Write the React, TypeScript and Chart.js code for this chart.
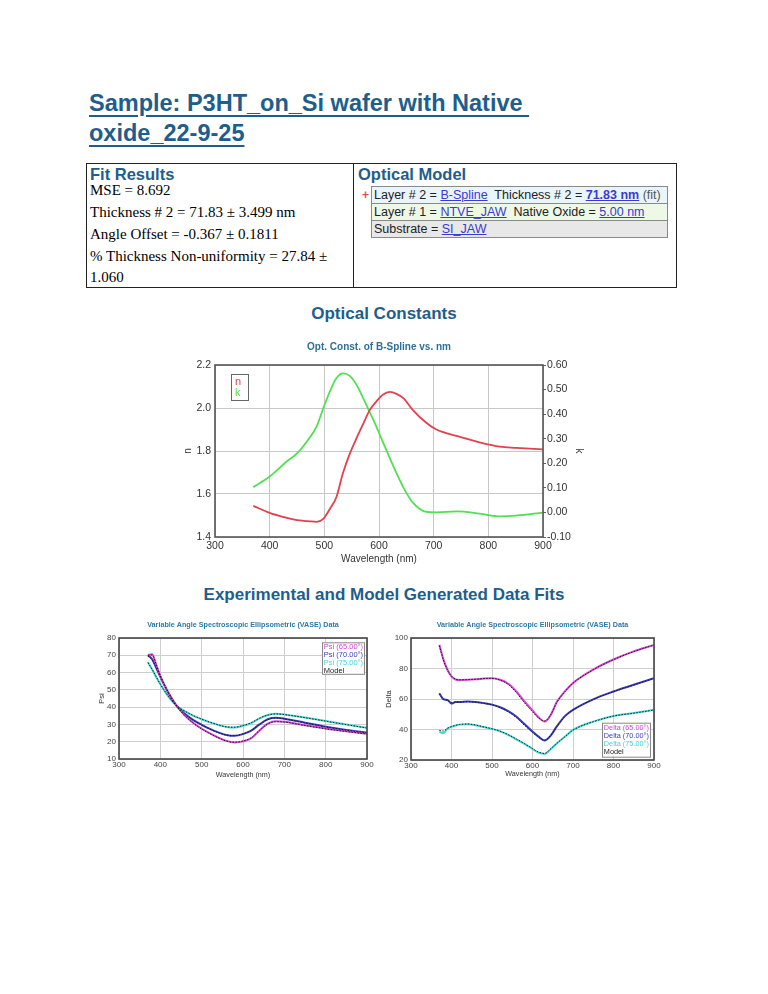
import React, { useEffect, useRef } from "react";
import { Chart, registerables } from "chart.js";

Chart.register(...registerables);

const FONT = "Arial, 'Liberation Sans', Helvetica, sans-serif";
const SERIF = "'Times New Roman', 'Liberation Serif', Times, serif";
const BLUE = "#1d5e8c";

// ---------- Optical constants (B-Spline) ----------
const ocWavelength = [370, 400, 430, 450, 470, 486, 498, 510, 522, 534, 547, 559, 571, 583, 595, 607, 620, 632, 645, 662, 687, 705, 742, 784, 821, 851, 900];
const nValues = [1.545, 1.512, 1.49, 1.478, 1.474, 1.47, 1.484, 1.53, 1.585, 1.697, 1.79, 1.86, 1.926, 1.99, 2.03, 2.062, 2.075, 2.066, 2.045, 1.99, 1.93, 1.9, 1.87, 1.84, 1.82, 1.815, 1.808];
const kValues = [0.103, 0.146, 0.205, 0.24, 0.295, 0.35, 0.424, 0.492, 0.546, 0.566, 0.555, 0.519, 0.465, 0.408, 0.35, 0.287, 0.22, 0.16, 0.1, 0.04, 0.002, 0.0, 0.004, -0.005, -0.016, -0.013, -0.001];

// ---------- Psi ----------
const psiWavelength = [370, 380, 390, 400, 420, 440, 460, 480, 500, 520, 540, 560, 580, 600, 620, 640, 660, 680, 700, 750, 800, 850, 900];
const psi65 = [70.2, 70.6, 64.5, 58.0, 48.0, 40.5, 35.0, 30.8, 27.5, 24.8, 22.4, 20.5, 19.6, 20.2, 22.0, 26.5, 30.5, 31.8, 31.5, 29.5, 27.6, 26.0, 24.6];
const psi70 = [70.0, 67.8, 62.8, 57.5, 48.0, 40.6, 36.0, 32.5, 29.8, 27.4, 25.4, 23.9, 23.4, 24.4, 26.4, 30.0, 33.0, 33.8, 33.3, 31.0, 28.7, 26.8, 25.2];
const psi75 = [66.0, 61.8, 57.5, 53.2, 46.0, 40.6, 37.5, 35.0, 33.0, 31.2, 29.7, 28.5, 28.2, 29.2, 30.8, 33.5, 35.5, 36.2, 35.8, 34.0, 32.0, 30.0, 28.0];
const psiModel65 = [70.0, 70.2, 64.8, 58.2, 48.2, 40.4, 34.9, 30.7, 27.4, 24.7, 22.3, 20.4, 19.7, 20.4, 22.3, 26.6, 30.3, 31.6, 31.4, 29.4, 27.5, 25.9, 24.5];
const psiModel70 = [69.6, 67.5, 62.9, 57.6, 48.1, 40.5, 35.9, 32.4, 29.7, 27.3, 25.3, 23.8, 23.5, 24.6, 26.6, 30.1, 32.8, 33.7, 33.2, 30.9, 28.6, 26.7, 25.1];
const psiModel75 = [65.8, 61.9, 57.6, 53.3, 46.1, 40.7, 37.6, 35.1, 33.1, 31.3, 29.8, 28.6, 28.4, 29.4, 31.0, 33.6, 35.4, 36.1, 35.7, 33.9, 31.9, 29.9, 27.9];

// ---------- Delta ----------
const deltaWavelength = [370, 380, 390, 400, 410, 420, 440, 460, 480, 500, 520, 540, 560, 580, 600, 615, 630, 645, 660, 680, 700, 750, 800, 850, 900];
const delta65 = [95.5, 86.0, 79.2, 74.8, 72.8, 72.5, 72.6, 72.9, 73.4, 73.6, 72.6, 70.0, 65.0, 58.5, 52.5, 48.0, 45.2, 49.5, 58.0, 65.0, 70.5, 79.3, 85.9, 91.2, 95.5];
const delta70 = [63.8, 59.8, 59.4, 57.0, 58.0, 58.0, 58.3, 58.0, 57.3, 56.3, 54.6, 52.0, 48.5, 43.6, 38.7, 35.3, 32.8, 36.0, 42.0, 48.8, 52.9, 59.8, 64.9, 69.3, 73.7];
const delta75 = [38.5, 37.5, 40.6, 41.8, 42.6, 43.2, 43.5, 42.8, 41.6, 40.4, 38.8, 36.5, 33.6, 30.6, 27.2, 24.8, 24.0, 27.2, 30.8, 35.3, 39.7, 45.2, 48.9, 50.8, 52.9];
const deltaModel65 = [95.0, 85.6, 79.0, 74.9, 73.0, 72.6, 72.7, 73.0, 73.4, 73.5, 72.4, 69.6, 64.3, 57.6, 51.6, 47.6, 45.6, 49.8, 57.8, 64.8, 70.4, 79.2, 85.8, 91.1, 95.4];
const deltaModel70 = [63.4, 60.0, 59.2, 57.6, 57.9, 58.0, 58.2, 57.9, 57.2, 56.2, 54.4, 51.6, 47.8, 42.8, 38.0, 35.0, 33.0, 36.2, 41.8, 48.6, 52.8, 59.7, 64.8, 69.2, 73.6];
const deltaModel75 = [39.4, 39.0, 40.8, 41.9, 42.7, 43.3, 43.6, 42.9, 41.7, 40.5, 38.9, 36.6, 33.8, 30.8, 27.5, 25.2, 24.3, 27.4, 30.9, 35.3, 39.6, 45.1, 48.8, 50.7, 52.8];

// ---------- Ticks ----------
const wavelengthTicks = [300, 400, 500, 600, 700, 800, 900];
const nTicks = [1.4, 1.6, 1.8, 2.0, 2.2];
const kTicks = [-0.1, 0.0, 0.1, 0.2, 0.3, 0.4, 0.5, 0.6];
const psiTicks = [10, 20, 30, 40, 50, 60, 70, 80];
const deltaTicks = [20, 40, 60, 80, 100];

// ---------- Colors ----------
const C_N = "#e2414d";
const C_K = "#52e052";
const C_65 = "#d445d4";
const C_70 = "#3b3bbd";
const C_75 = "#45d6d6";
const C_MODEL = "#1a1a1a";

const pts = (xs: number[], ys: number[]) => xs.map((x, i) => ({ x, y: ys[i] }));
const setTicks = (values: number[]) => (scale: any) => {
  scale.ticks = values.map((v) => ({ value: v }));
};

const framePlugin = {
  id: "frame",
  afterDatasetsDraw(chart: any, _a: any, opts: any) {
    const { ctx, chartArea: a } = chart;
    ctx.save();
    ctx.strokeStyle = opts.color || "#555";
    ctx.lineWidth = opts.width || 1.5;
    ctx.strokeRect(a.left, a.top, a.right - a.left, a.bottom - a.top);
    ctx.restore();
  },
};

const boxLegendPlugin = {
  id: "boxLegend",
  afterDraw(chart: any, _a: any, opts: any) {
    if (!opts || !opts.show) return;
    const { ctx, chartArea: a } = chart;
    const x = opts.right ? a.right - opts.dx - opts.w : a.left + opts.dx;
    const y = opts.bottom ? a.bottom - opts.dy - opts.h : a.top + opts.dy;
    ctx.save();
    ctx.fillStyle = "#ffffff";
    ctx.fillRect(x, y, opts.w, opts.h);
    ctx.strokeStyle = opts.border || "#777";
    ctx.lineWidth = 1;
    ctx.strokeRect(x + 0.5, y + 0.5, opts.w, opts.h);
    ctx.font = `${opts.fontSize}px ${FONT}`;
    ctx.textBaseline = "middle";
    ctx.textAlign = "left";
    const seen = new Set<string>();
    let i = 0;
    chart.data.datasets.forEach((ds: any) => {
      if (!ds.label || seen.has(ds.label)) return;
      seen.add(ds.label);
      ctx.fillStyle = ds.legendColor || ds.borderColor;
      ctx.fillText(ds.label, x + opts.padX, y + opts.firstY + i * opts.gap);
      i++;
    });
    ctx.restore();
  },
};

function ChartCanvas({ config, left, top, width, height }: any) {
  const ref = useRef<HTMLCanvasElement>(null);
  useEffect(() => {
    const chart = new Chart(ref.current as HTMLCanvasElement, config);
    return () => chart.destroy();
  }, []);
  return (
    <canvas
      ref={ref}
      width={width}
      height={height}
      style={{ position: "absolute", left, top, width, height, display: "block" }}
    />
  );
}

const lineDs = (label: string, xs: number[], ys: number[], color: string, extra: any = {}) => ({
  label,
  data: pts(xs, ys),
  borderColor: color,
  backgroundColor: color,
  borderWidth: 2,
  pointRadius: 0,
  cubicInterpolationMode: "monotone",
  fill: false,
  order: 1,
  ...extra,
});

const modelDs = (xs: number[], ys: number[], extra: any = {}) => ({
  label: "Model",
  data: pts(xs, ys),
  borderColor: C_MODEL,
  legendColor: "#222",
  borderWidth: 1,
  borderDash: [1.5, 1.5],
  pointRadius: 0,
  cubicInterpolationMode: "monotone",
  fill: false,
  order: 0,
  ...extra,
});

// ---------- Chart configs ----------
const ocConfig: any = {
  type: "line",
  data: {
    datasets: [
      lineDs("n", ocWavelength, nValues, C_N, { yAxisID: "n", borderWidth: 1.8 }),
      lineDs("k", ocWavelength, kValues, C_K, { yAxisID: "k", borderWidth: 1.8 }),
    ],
  },
  plugins: [framePlugin, boxLegendPlugin],
  options: {
    animation: false,
    responsive: false,
    events: [],
    layout: { padding: 0 },
    plugins: {
      legend: { display: false },
      tooltip: { enabled: false },
      title: {
        display: true,
        text: "Opt. Const. of B-Spline vs. nm",
        color: "#2f6f99",
        font: { family: FONT, size: 10, weight: "bold", lineHeight: 1.2 },
        padding: { top: 6, bottom: 12 },
        fullSize: false,
      },
      frame: { color: "#555", width: 1.6 },
      boxLegend: { show: true, dx: 16, dy: 9, w: 17, h: 26, fontSize: 11, padX: 4, firstY: 7.7, gap: 11, border: "#666" },
    },
    scales: {
      x: {
        type: "linear",
        min: 300,
        max: 900,
        afterBuildTicks: setTicks(wavelengthTicks),
        afterFit: (s: any) => {
          s.height = 33;
          s.paddingLeft = 0;
          s.paddingRight = 0;
        },
        grid: { color: "#c8c8c8", drawTicks: false },
        border: { display: false },
        ticks: { color: "#333", font: { family: FONT, size: 10.5 }, padding: 3, maxRotation: 0, callback: (v: any) => String(v) },
        title: { display: true, text: "Wavelength (nm)", color: "#333", font: { family: FONT, size: 10, lineHeight: 1.2 }, padding: { top: 0, bottom: 5 } },
      },
      n: {
        type: "linear",
        position: "left",
        min: 1.4,
        max: 2.2,
        afterBuildTicks: setTicks(nTicks),
        afterFit: (s: any) => {
          s.width = 41;
        },
        grid: { color: "#c8c8c8", drawTicks: false },
        border: { display: false },
        ticks: { color: "#333", font: { family: FONT, size: 10.5 }, padding: 4, callback: (v: any) => Number(v).toFixed(1) },
        title: { display: true, text: "n", color: "#333", font: { family: FONT, size: 10, lineHeight: 1.2 }, padding: { top: 8, bottom: 0 } },
      },
      k: {
        type: "linear",
        position: "right",
        min: -0.1,
        max: 0.6,
        afterBuildTicks: setTicks(kTicks),
        afterFit: (s: any) => {
          s.width = 51;
        },
        grid: { drawOnChartArea: false, drawTicks: true, tickLength: 3, color: "#666" },
        border: { display: false },
        ticks: { color: "#333", font: { family: FONT, size: 10.5 }, padding: 1, callback: (v: any) => Number(v).toFixed(2) },
        title: { display: true, text: "k", color: "#333", font: { family: FONT, size: 10, lineHeight: 1.2 }, padding: { top: 9, bottom: 0 } },
      },
    },
  },
};

const vaseOptions = (yTicks: number[], yMin: number, yMax: number, yTitle: string, yWidth: number, padRight: number, xHeight: number, yTitlePad: number, xTitlePad: number, legend: any) => ({
  animation: false,
  responsive: false,
  events: [],
  layout: { padding: { left: 0, right: padRight, top: 0, bottom: 0 } },
  plugins: {
    legend: { display: false },
    tooltip: { enabled: false },
    title: {
      display: true,
      text: "Variable Angle Spectroscopic Ellipsometric (VASE) Data",
      color: "#2f7aa6",
      font: { family: FONT, size: 7.2, weight: "bold", lineHeight: 1.2 },
      padding: { top: 8.7, bottom: 8.66 },
      fullSize: false,
    },
    frame: { color: "#444", width: 1.6 },
    boxLegend: legend,
  },
  scales: {
    x: {
      type: "linear",
      min: 300,
      max: 900,
      afterBuildTicks: setTicks(wavelengthTicks),
      afterFit: (s: any) => {
        s.height = xHeight;
        s.paddingLeft = 0;
        s.paddingRight = 0;
      },
      grid: { color: "#cfcfcf", drawTicks: false },
      border: { display: false },
      ticks: { color: "#444", font: { family: FONT, size: 8 }, padding: 1, maxRotation: 0, callback: (v: any) => String(v) },
      title: { display: true, text: "Wavelength (nm)", color: "#333", font: { family: FONT, size: 7.2, lineHeight: 1.2 }, padding: { top: 0, bottom: xTitlePad } },
    },
    y: {
      type: "linear",
      position: "left",
      min: yMin,
      max: yMax,
      afterBuildTicks: setTicks(yTicks),
      afterFit: (s: any) => {
        s.width = yWidth;
      },
      grid: { color: "#cfcfcf", drawTicks: false },
      border: { display: false },
      ticks: { color: "#444", font: { family: FONT, size: 8 }, padding: 3, callback: (v: any) => String(v) },
      title: { display: true, text: yTitle, color: "#333", font: { family: FONT, size: 7.5, lineHeight: 1.2 }, padding: { top: yTitlePad, bottom: 0 } },
    },
  },
});

const psiConfig: any = {
  type: "line",
  data: {
    datasets: [
      lineDs("Psi (65.00°)", psiWavelength, psi65, C_65),
      lineDs("Psi (70.00°)", psiWavelength, psi70, C_70),
      lineDs("Psi (75.00°)", psiWavelength, psi75, C_75),
      modelDs(psiWavelength, psiModel65),
      modelDs(psiWavelength, psiModel70),
      modelDs(psiWavelength, psiModel75),
    ],
  },
  plugins: [framePlugin, boxLegendPlugin],
  options: vaseOptions(psiTicks, 10, 80, "Psi", 41, 11, 31, 19.7, 10.7, {
    show: true, right: true, dx: 3, dy: 4.3, w: 42, h: 31.5, fontSize: 7.5, padX: 1.8, firstY: 4.5, gap: 8, border: "#888",
  }),
};

const deltaConfig: any = {
  type: "line",
  data: {
    datasets: [
      lineDs("Delta (65.00°)", deltaWavelength, delta65, C_65),
      lineDs("Delta (70.00°)", deltaWavelength, delta70, C_70),
      lineDs("Delta (75.00°)", deltaWavelength, delta75, C_75),
      modelDs(deltaWavelength, deltaModel65),
      modelDs(deltaWavelength, deltaModel70),
      modelDs(deltaWavelength, deltaModel75),
    ],
  },
  plugins: [framePlugin, boxLegendPlugin],
  options: vaseOptions(deltaTicks, 20, 100, "Delta", 39, 14, 30, 12.7, 11.4, {
    show: true, right: true, bottom: true, dx: 4, dy: 3.3, w: 48, h: 34, fontSize: 7.3, padX: 1.8, firstY: 4.8, gap: 8, border: "#888",
  }),
};

// ---------- Page text ----------
const fitLines = [
  "MSE = 8.692",
  "Thickness # 2 = 71.83 ± 3.499 nm",
  "Angle Offset = -0.367 ± 0.1811",
  "% Thickness Non-uniformity = 27.84 ±",
  "1.060",
];
const fitTops = [179, 201, 223, 244.5, 266];

const abs = (left: number, top: number, extra: any = {}) => ({ position: "absolute" as const, left, top, whiteSpace: "pre" as const, ...extra });
const link = { color: "#3a3ad2", textDecoration: "underline" };

export default function App() {
  useEffect(() => {
    Chart.defaults.font.family = FONT;
  }, []);
  return (
    <div style={{ position: "absolute", left: 0, top: 0, width: 768, height: 994, background: "#fff", overflow: "hidden" }}>
      {/* Page title */}
      <div
        style={abs(89, 87.5, {
          font: `bold 23.5px ${FONT}`,
          lineHeight: "30px",
          color: BLUE,
          textDecoration: "underline",
          textDecorationThickness: "2px",
          textUnderlineOffset: "4px",
        })}
      >
        {"Sample: P3HT_on_Si wafer with Native "}
        <br />
        {"oxide_22-9-25"}
      </div>

      {/* Table */}
      <div style={abs(86, 163, { width: 591, height: 125, border: "1px solid #222", boxSizing: "border-box" })} />
      <div style={abs(353, 163, { width: 1, height: 125, background: "#222" })} />

      <div style={abs(90, 164, { font: `bold 16.5px ${FONT}`, lineHeight: "20px", color: BLUE })}>Fit Results</div>
      {fitLines.map((t, i) => (
        <div key={i} style={abs(90, fitTops[i], { font: `15px ${SERIF}`, lineHeight: "22px", color: "#000" })}>
          {t}
        </div>
      ))}

      <div style={abs(358, 164, { font: `bold 16.5px ${FONT}`, lineHeight: "20px", color: BLUE })}>Optical Model</div>
      <div style={abs(362, 187, { font: `bold 12px ${FONT}`, lineHeight: "16px", color: "#e05050" })}>+</div>
      <div style={abs(371, 186, { width: 297, border: "1.5px solid #8a8a8a", boxSizing: "border-box", font: `12.5px ${FONT}`, color: "#222" })}>
        <div style={{ height: 16, lineHeight: "16px", background: "#e9f5fb", paddingLeft: 2, borderBottom: "1.5px solid #8a8a8a", whiteSpace: "pre" }}>
          {"Layer # 2 = "}
          <span style={link}>B-Spline</span>
          {"  Thickness # 2 = "}
          <span style={{ ...link, fontWeight: "bold" }}>71.83 nm</span>
          <span style={{ color: "#555" }}>{" (fit)"}</span>
        </div>
        <div style={{ height: 16, lineHeight: "16px", background: "#eef8e6", paddingLeft: 2, borderBottom: "1.5px solid #8a8a8a", whiteSpace: "pre" }}>
          {"Layer # 1 = "}
          <span style={link}>NTVE_JAW</span>
          {"  Native Oxide = "}
          <span style={link}>5.00 nm</span>
        </div>
        <div style={{ height: 16, lineHeight: "16px", background: "#e8e8e8", paddingLeft: 2, whiteSpace: "pre" }}>
          {"Substrate = "}
          <span style={link}>SI_JAW</span>
        </div>
      </div>

      {/* Section headings */}
      <div style={abs(0, 304, { width: 768, textAlign: "center", font: `bold 17px ${FONT}`, lineHeight: "20px", color: BLUE })}>Optical Constants</div>
      <div style={abs(0, 585, { width: 768, textAlign: "center", font: `bold 17px ${FONT}`, lineHeight: "20px", color: BLUE })}>
        Experimental and Model Generated Data Fits
      </div>

      {/* Charts */}
      <ChartCanvas config={ocConfig} left={174} top={335} width={420} height={235} />
      <ChartCanvas config={psiConfig} left={78} top={612} width={300} height={178} />
      <ChartCanvas config={deltaConfig} left={372} top={612} width={296} height={178} />
    </div>
  );
}
